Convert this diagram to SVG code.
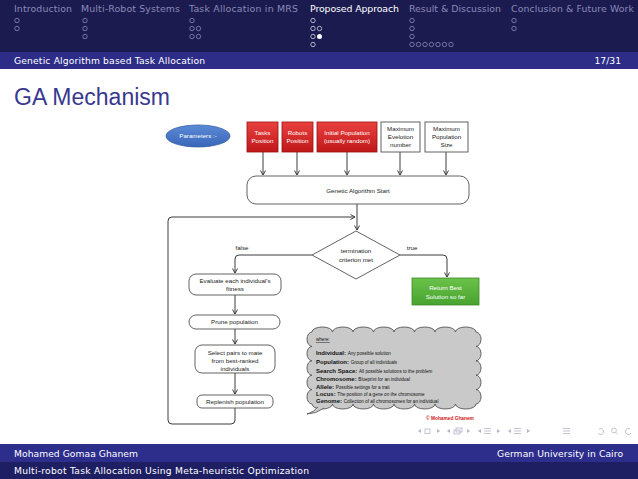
<svg xmlns="http://www.w3.org/2000/svg" width="638" height="479" viewBox="0 0 638 479">
<defs>
<linearGradient id="gRed" x1="0" y1="0" x2="0" y2="1"><stop offset="0" stop-color="#e8413e"/><stop offset="1" stop-color="#c0181a"/></linearGradient>
<linearGradient id="gGreen" x1="0" y1="0" x2="0" y2="1"><stop offset="0" stop-color="#6cc24a"/><stop offset="1" stop-color="#47a32f"/></linearGradient>
<linearGradient id="gBlue" x1="0" y1="0" x2="0" y2="1"><stop offset="0" stop-color="#5b8ad6"/><stop offset="1" stop-color="#3a66b8"/></linearGradient>
<marker id="ah" markerUnits="userSpaceOnUse" markerWidth="8" markerHeight="8" refX="5" refY="3" orient="auto"><path d="M0.5,0.5 L5,3 L0.5,5.5" fill="none" stroke="#3c3c3c" stroke-width="1"/></marker>
<style>
.sec{font-family:"DejaVu Sans","Liberation Sans",sans-serif;font-size:9.4px;fill:#8a8ab8}
.act{fill:#ffffff}
.bar{font-family:"DejaVu Sans","Liberation Sans",sans-serif;font-size:9.2px;fill:#ffffff}
.dot{fill:none;stroke:#8a8ab8;stroke-width:0.8}
.adot{fill:none;stroke:#d0d0e8;stroke-width:0.8}
.t{font-family:"Liberation Sans",Arial,sans-serif;font-size:6.2px;fill:#222;text-anchor:middle}
.tw{font-family:"Liberation Sans",Arial,sans-serif;font-size:6.2px;fill:#fff;text-anchor:middle}
.box{fill:#fff;stroke:#505050;stroke-width:0.9}
.red{fill:url(#gRed);stroke:#9a1010;stroke-width:0.8}
.con{fill:none;stroke:#3c3c3c;stroke-width:1}
.lb{font-family:"Liberation Sans",Arial,sans-serif;font-size:6px;font-weight:bold;fill:#111}
.ds{font-size:4.6px;font-weight:normal}
.nav{fill:none;stroke:#b4b4c8;stroke-width:0.8}
.navf{fill:#b4b4c8}
</style>
</defs>
<rect x="0" y="0" width="638" height="52" fill="#1b1b4f"/>
<rect x="0" y="52" width="638" height="17" fill="#2d2d88"/>
<rect x="0" y="69" width="638" height="375" fill="#ffffff"/>
<rect x="0" y="444" width="638" height="18" fill="#2d2d8c"/>
<rect x="0" y="462" width="638" height="17" fill="#1e1e62"/>
<g id="header">
<text class="sec" x="14" y="12" textLength="58">Introduction</text>
<text class="sec" x="81" y="12" textLength="99">Multi-Robot Systems</text>
<text class="sec" x="189" y="12" textLength="109">Task Allocation in MRS</text>
<text class="sec act" x="310" y="12" textLength="89">Proposed Approach</text>
<text class="sec" x="409" y="12" textLength="92">Result &amp; Discussion</text>
<text class="sec" x="511" y="12" textLength="123">Conclusion &amp; Future Work</text>
<circle class="dot" cx="17" cy="20.5" r="2.2"/><circle class="dot" cx="17" cy="28.5" r="2.2"/>
<circle class="dot" cx="85" cy="20.5" r="2.2"/><circle class="dot" cx="85" cy="28.5" r="2.2"/><circle class="dot" cx="85" cy="36.5" r="2.2"/>
<circle class="dot" cx="192" cy="20.5" r="2.2"/><circle class="dot" cx="192" cy="28.5" r="2.2"/><circle class="dot" cx="198.5" cy="28.5" r="2.2"/><circle class="dot" cx="192" cy="36.5" r="2.2"/><circle class="dot" cx="198.5" cy="36.5" r="2.2"/>
<circle class="adot" cx="313" cy="20.5" r="2.2"/><circle class="adot" cx="313" cy="28.5" r="2.2"/><circle class="adot" cx="319.5" cy="28.5" r="2.2"/><circle class="adot" cx="313" cy="36.5" r="2.2"/><circle cx="319.5" cy="36.5" r="2.5" fill="#ffffff"/><circle class="adot" cx="313" cy="44.5" r="2.2"/>
<circle class="dot" cx="412" cy="20.5" r="2.2"/><circle class="dot" cx="412" cy="28.5" r="2.2"/><circle class="dot" cx="412" cy="36.5" r="2.2"/>
<circle class="dot" cx="412" cy="44.5" r="2.2"/><circle class="dot" cx="418.5" cy="44.5" r="2.2"/><circle class="dot" cx="425" cy="44.5" r="2.2"/><circle class="dot" cx="431.5" cy="44.5" r="2.2"/><circle class="dot" cx="438" cy="44.5" r="2.2"/><circle class="dot" cx="444.5" cy="44.5" r="2.2"/><circle class="dot" cx="451" cy="44.5" r="2.2"/>
<circle class="dot" cx="514" cy="20.5" r="2.2"/><circle class="dot" cx="514" cy="28.5" r="2.2"/>
<text class="bar" x="14" y="64" textLength="191">Genetic Algorithm based Task Allocation</text>
<text class="bar" x="621" y="64" text-anchor="end">17/31</text>
</g>
<text x="14" y="105" font-family="'Liberation Sans',Arial,sans-serif" font-size="23" fill="#38388f" textLength="156">GA Mechanism</text>
<g id="connectors">
<path class="con" d="M263,152 V175" marker-end="url(#ah)"/>
<path class="con" d="M297,152 V175" marker-end="url(#ah)"/>
<path class="con" d="M347,152 V175" marker-end="url(#ah)"/>
<path class="con" d="M400,152 V175" marker-end="url(#ah)"/>
<path class="con" d="M446,152 V175" marker-end="url(#ah)"/>
<path class="con" d="M357,204 V230" marker-end="url(#ah)"/>
<path class="con" d="M235,408 V420 Q235,424 231,424 H172 Q168,424 168,420 V221 Q168,217 172,217 H355" marker-end="url(#ah)"/>
<path class="con" d="M312,255 H239 Q235,255 235,259 V273" marker-end="url(#ah)"/>
<path class="con" d="M400,255 H443 Q447,255 447,259 V277" marker-end="url(#ah)"/>
<path class="con" d="M235,295 V314" marker-end="url(#ah)"/>
<path class="con" d="M235,329 V344" marker-end="url(#ah)"/>
<path class="con" d="M235,373 V394" marker-end="url(#ah)"/>
<text class="t" x="242" y="250" font-size="4.8">false</text>
<text class="t" x="412" y="250" font-size="4.8">true</text>
</g>
<g id="parameters">
<ellipse cx="198" cy="136" rx="32" ry="11" fill="url(#gBlue)" stroke="#3a62a8" stroke-width="0.8"/>
<text class="tw" x="198" y="138.2">Parameters :-</text>
</g>
<g id="tasks"><rect class="red" x="247" y="122" width="31" height="30"/><text class="tw" x="262.5" y="135">Tasks</text><text class="tw" x="262.5" y="143">Position</text></g>
<g id="robots"><rect class="red" x="282" y="122" width="31" height="30"/><text class="tw" x="297.5" y="135">Robots</text><text class="tw" x="297.5" y="143">Position</text></g>
<g id="initpop"><rect class="red" x="317" y="122" width="60" height="30"/><text class="tw" x="347" y="135">Initial Population</text><text class="tw" x="347" y="143">(usually random)</text></g>
<g id="maxevo"><rect class="box" x="381" y="122" width="39" height="30"/><text class="t" x="400.5" y="131">Maximum</text><text class="t" x="400.5" y="139">Evelotion</text><text class="t" x="400.5" y="147">number</text></g>
<g id="maxpop"><rect class="box" x="425" y="122" width="43" height="30"/><text class="t" x="446.5" y="131">Maximum</text><text class="t" x="446.5" y="139">Population</text><text class="t" x="446.5" y="147">Size</text></g>
<g id="start"><rect class="box" x="247" y="176" width="222" height="28" rx="9"/><text class="t" x="358" y="192.5" font-size="6.6">Genetic Algorithm Start</text></g>
<g id="termination"><path class="box" d="M356,231 L400,255 L356,279 L312,255 Z"/><text class="t" x="356" y="253">termination</text><text class="t" x="356" y="261.5">criterion met</text></g>
<g id="best"><rect x="412" y="278" width="67" height="27" fill="url(#gGreen)" stroke="#3d8a2a" stroke-width="0.8"/><text class="tw" x="445.5" y="290">Return Best</text><text class="tw" x="445.5" y="298.5">Solution so far</text></g>
<g id="evaluate"><rect class="box" x="189" y="274" width="92" height="21" rx="7"/><text class="t" x="235" y="283">Evaluate each individual's</text><text class="t" x="235" y="291">fitness</text></g>
<g id="prune"><rect class="box" x="189" y="315" width="91" height="14" rx="7"/><text class="t" x="234.5" y="324.2">Prune population</text></g>
<g id="select"><rect class="box" x="195" y="345" width="80" height="28" rx="7"/><text class="t" x="235" y="354.5">Select pairs to mate</text><text class="t" x="235" y="362.5">from best-ranked</text><text class="t" x="235" y="370.5">individuals</text></g>
<g id="replenish"><rect class="box" x="197" y="395" width="76" height="13" rx="5"/><text class="t" x="235" y="403.8">Replenish population</text></g>
<g id="callout">
<path d="M312,332 a10.25,5 0 0 1 20.5,0 a10.25,5 0 0 1 20.5,0 a10.25,5 0 0 1 20.5,0 a10.25,5 0 0 1 20.5,0 a10.25,5 0 0 1 20.5,0 a10.25,5 0 0 1 20.5,0 a10.25,5 0 0 1 20.5,0 a10.25,5 0 0 1 20.5,0 a5,7.2 0 0 1 0,14.4 a5,7.2 0 0 1 0,14.4 a5,7.2 0 0 1 0,14.4 a5,7.2 0 0 1 0,14.4 a5,7.2 0 0 1 0,14.4 a10.25,5 0 0 1 -20.5,0 a10.25,5 0 0 1 -20.5,0 a10.25,5 0 0 1 -20.5,0 a10.25,5 0 0 1 -20.5,0 a10.25,5 0 0 1 -20.5,0 a10.25,5 0 0 1 -20.5,0 a10.25,5 0 0 1 -20.5,0 a10.25,5 0 0 1 -20.5,0 a5,7.2 0 0 1 0,-14.4 a5,7.2 0 0 1 0,-14.4 a5,7.2 0 0 1 0,-14.4 a5,7.2 0 0 1 0,-14.4 a5,7.2 0 0 1 0,-14.4 Z" fill="#c9c9c9" stroke="#555" stroke-width="0.9"/>
<path d="M318,407 Q314,412 307,414 Q316,414 324,408" fill="#c9c9c9" stroke="#555" stroke-width="0.8"/>
<text class="lb ds" x="316" y="341" text-decoration="underline">where:</text>
<text class="lb" x="316" y="355">Individual: <tspan class="ds">Any possible solution</tspan></text>
<text class="lb" x="316" y="364">Population: <tspan class="ds">Group of all individuals</tspan></text>
<text class="lb" x="316" y="373">Search Space: <tspan class="ds">All possible solutions to the problem</tspan></text>
<text class="lb" x="316" y="381">Chromosome: <tspan class="ds">Blueprint for an individual</tspan></text>
<text class="lb" x="316" y="388.5">Allele: <tspan class="ds">Possible settings for a trait</tspan></text>
<text class="lb" x="316" y="395.5">Locus: <tspan class="ds">The position of a gene on the chromosome</tspan></text>
<text class="lb" x="316" y="403">Genome: <tspan class="ds">Collection of all chromosomes for an individual</tspan></text>
</g>
<text x="450" y="419.5" font-family="'Liberation Sans',Arial,sans-serif" font-size="4.8" font-weight="bold" fill="#d02020" text-anchor="middle">© Mohamed Ghanem</text>
<g id="nav">
<path class="navf" d="M418,431 l3,-2 v4 z"/><rect class="nav" x="425" y="429" width="5" height="4.5"/><path class="navf" d="M437,429 l3,2 l-3,2 z"/>
<path class="navf" d="M447,431 l3,-2 v4 z"/><rect class="nav" x="454" y="430" width="6" height="4"/><rect class="nav" x="456" y="428" width="6" height="4"/><path class="navf" d="M467,429 l3,2 l-3,2 z"/>
<path class="navf" d="M478,431 l3,-2 v4 z"/><path class="nav" d="M484,428.5 h7 M484,431 h7 M484,433.5 h7"/><path class="navf" d="M497,429 l3,2 l-3,2 z"/>
<path class="navf" d="M508,431 l3,-2 v4 z"/><path class="nav" d="M514,428.5 h7 M514,431 h7 M514,433.5 h7"/><path class="navf" d="M527,429 l3,2 l-3,2 z"/>
<path class="nav" d="M563,428.5 h7 M563,431 h7 M563,433.5 h7"/>
<path class="nav" d="M599,429 a3,3 0 1 1 -1,4"/><circle class="nav" cx="614" cy="430.5" r="2.4"/><path class="nav" d="M615.8,432.3 l2,2"/><path class="nav" d="M630,429 a3,3 0 1 0 1,4"/>
</g>
<g id="footer">
<text class="bar" x="14" y="457" textLength="124">Mohamed Gomaa Ghanem</text>
<text class="bar" x="623" y="457" text-anchor="end" textLength="126">German University in Cairo</text>
<text class="bar" x="14" y="474" textLength="295">Multi-robot Task Allocation Using Meta-heuristic Optimization</text>
</g>
</svg>
